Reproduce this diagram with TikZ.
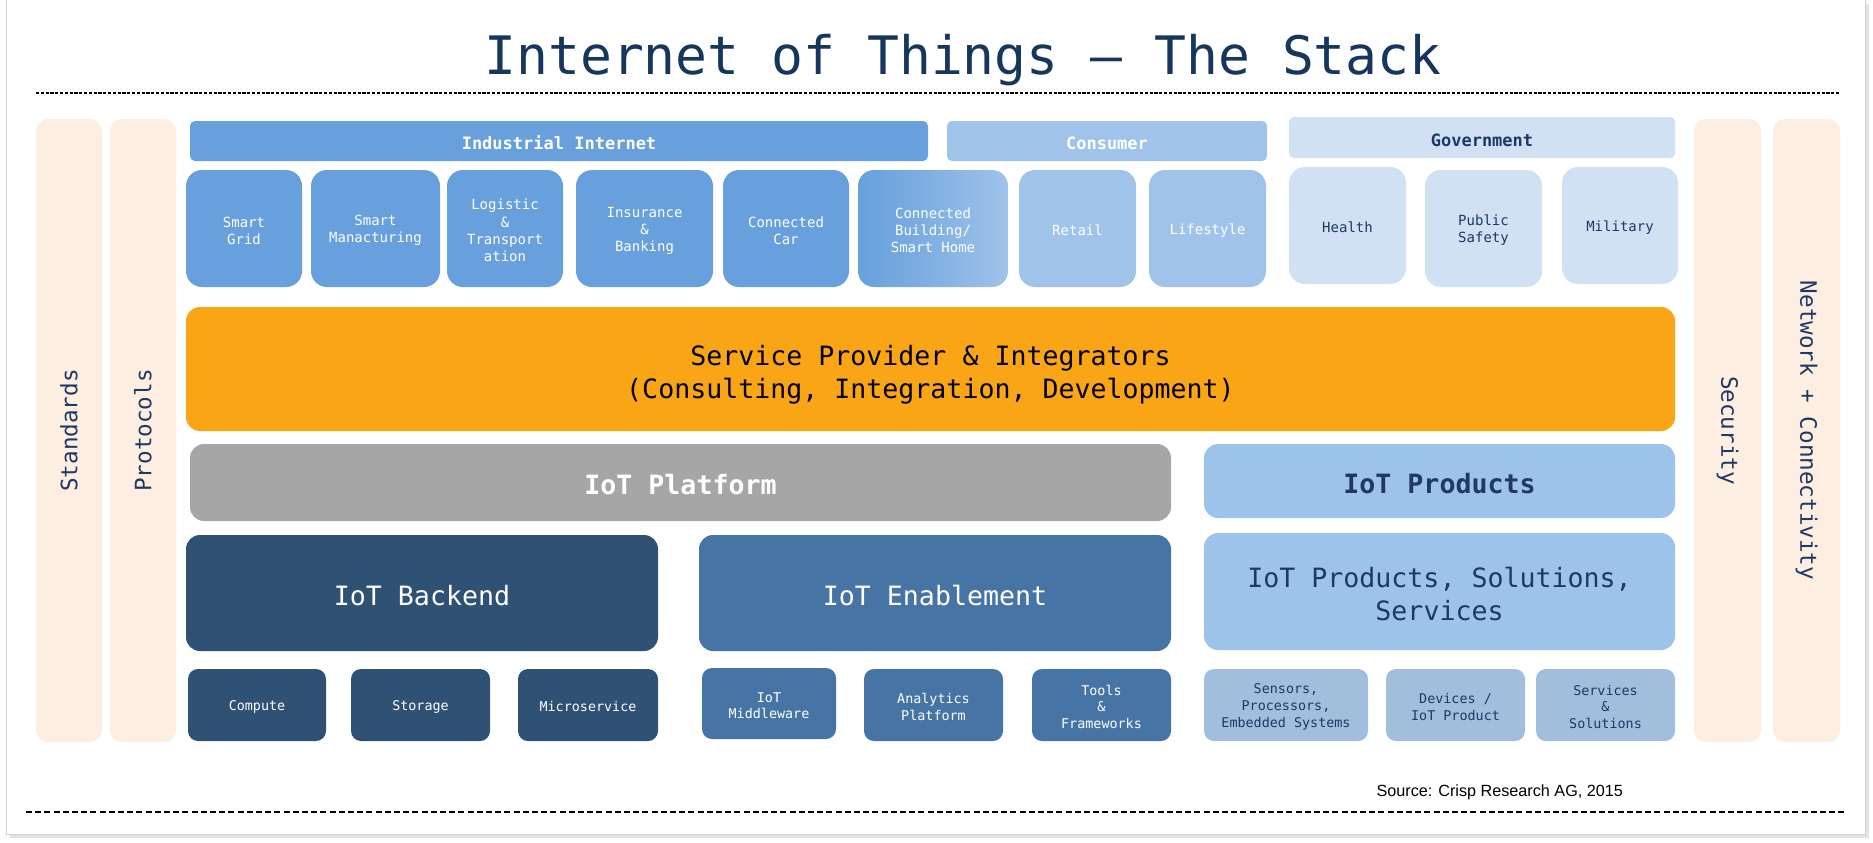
\documentclass[tikz,border=0pt]{standalone}
\usepackage{fontspec}
\setmainfont{DejaVu Sans Mono}
\newfontfamily\srcfont{Liberation Sans}
\usetikzlibrary{positioning}
\definecolor{cnavy}{RGB}{31,56,100}
\definecolor{ctitle}{RGB}{23,54,93}
\definecolor{cind}{RGB}{103,160,220}
\definecolor{ccons}{RGB}{160,195,234}
\definecolor{cgov}{RGB}{207,225,243}
\definecolor{cserv}{RGB}{249,165,22}
\definecolor{cplat}{RGB}{166,166,166}
\definecolor{cback}{RGB}{47,82,116}
\definecolor{cenab}{RGB}{70,116,164}
\definecolor{cprod}{RGB}{157,195,235}
\definecolor{cprodt}{RGB}{162,190,221}
\definecolor{cside}{RGB}{253,238,226}
% box from corner (x1,y1) to (x2,y2), in pixels
\newcommand{\blkstrut}{}
\newcommand{\blk}[7]{%
  \node[#6,minimum width={(#4-#2)*0.5pt},minimum height={(#5-#3)*0.5pt}] (#1) at ({(#2+#4)/2},{(#3+#5)/2}) {\blkstrut#7};}

\begin{document}
\begin{tikzpicture}[x=0.5pt,y=-0.5pt,
  base/.style={inner sep=0pt,align=center},
  lower/.style={/utils/exec={\def\blkstrut{\rule{0pt}{#1}}}},
  sidebar/.style={base,fill=cside,rounded corners=6pt},
  sidetext/.style={text=cnavy,font=\fontsize{11.3}{13}\selectfont},
  header/.style={base,rounded corners=2.5pt,lower=8.9pt,font=\fontsize{8.5}{10}\selectfont\bfseries},
  tile/.style={base,rounded corners=8pt,lower=7.3pt,font=\fontsize{7}{8.6}\selectfont},
  layer/.style={base,rounded corners=7pt,lower=12.5pt,font=\fontsize{13.3}{16.7}\selectfont},
  small/.style={base,rounded corners=5pt,lower=6.9pt,font=\fontsize{6.7}{8.3}\selectfont}]
\useasboundingbox (0,0) rectangle (1873,842);
% ---------- frame ----------
\fill[gray!22] (10,4) rectangle (1869,838);
\draw[gray!35,fill=white] (6,-2) rectangle (1865,834);
% ---------- title ----------
\node[anchor=base,text=ctitle,font=\fontsize{26.5}{30}\selectfont] (title) at (963,74) {Internet of Things – The Stack};
\draw[line width=0.7pt,dash pattern=on 1.6pt off 0.8pt] (36,93) coordinate (tl) -- (1840,93) coordinate (tr);
% ---------- side bars ----------
\blk{std}{36}{119}{102}{742}{sidebar}{}
\blk{prot}{110}{119}{176}{742}{sidebar}{}
\blk{sec}{1694}{119}{1761}{742}{sidebar}{}
\blk{net}{1773}{119}{1840}{742}{sidebar}{}
\node[sidetext,rotate=90] (stdT) at (std) {Standards};
\node[sidetext,rotate=90] (protT) at (prot) {Protocols};
\node[sidetext,rotate=-90] (secT) at (sec) {Security};
\node[sidetext,rotate=-90] (netT) at (net) {Network + Connectivity};
% ---------- markets ----------
\blk{ind}{190}{121}{928}{161}{header,fill=cind,text=white}{Industrial Internet}
\blk{cons}{947}{121}{1267}{161}{header,fill=ccons,text=white}{Consumer}
\blk{gov}{1289}{117}{1675}{158}{header,fill=cgov,text=cnavy}{Government}
\blk{grid}{186}{170}{302}{287}{tile,fill=cind,text=white}{Smart\\Grid}
\blk{manu}{311}{170}{440}{287}{tile,fill=cind,text=white}{Smart\\Manacturing}
\blk{logi}{447}{170}{563}{287}{tile,fill=cind,text=white}{Logistic\\\&\\Transport\\ation}
\blk{insu}{576}{170}{713}{287}{tile,fill=cind,text=white}{Insurance\\\&\\Banking}
\blk{car}{723}{170}{849}{287}{tile,fill=cind,text=white}{Connected\\Car}
\blk{home}{858}{170}{1008}{287}{tile,left color=cind,right color=ccons,middle color=cind!55!ccons,text=white}{Connected\\Building/\\Smart Home}
\blk{retail}{1019}{170}{1136}{287}{tile,fill=ccons,text=white}{Retail}
\blk{life}{1149}{170}{1266}{287}{tile,fill=ccons,text=white}{Lifestyle}
\blk{health}{1289}{167}{1406}{284}{tile,fill=cgov,text=cnavy}{Health}
\blk{safety}{1425}{170}{1542}{287}{tile,fill=cgov,text=cnavy}{Public\\Safety}
\blk{mil}{1562}{167}{1678}{284}{tile,fill=cgov,text=cnavy}{Military}
% ---------- service layer ----------
\blk{serv}{186}{307}{1675}{431}{layer,lower=16pt,fill=cserv,text=black}{Service Provider \& Integrators\\(Consulting, Integration, Development)}
% ---------- platform / products ----------
\blk{plat}{190}{444}{1171}{521}{layer,fill=cplat,text=white,font=\fontsize{13.3}{16.7}\selectfont\bfseries}{IoT Platform}
\blk{prod}{1204}{444}{1675}{518}{layer,fill=cprod,text=cnavy,font=\fontsize{13.3}{16.7}\selectfont\bfseries}{IoT Products}
\blk{back}{186}{535}{658}{651}{layer,fill=cback,text=white}{IoT Backend}
\blk{enab}{699}{535}{1171}{651}{layer,fill=cenab,text=white}{IoT Enablement}
\blk{sol}{1204}{533}{1675}{650}{layer,fill=cprod,text=cnavy}{IoT Products, Solutions,\\Services}
% ---------- bottom row ----------
\blk{comp}{188}{669}{326}{741}{small,fill=cback,text=white}{Compute}
\blk{stor}{351}{669}{490}{741}{small,fill=cback,text=white}{Storage}
\blk{micro}{518}{669}{658}{741}{small,fill=cback,text=white}{Microservice}
\blk{midw}{702}{668}{836}{739}{small,fill=cenab,text=white}{IoT\\Middleware}
\blk{anal}{864}{669}{1003}{741}{small,fill=cenab,text=white}{Analytics\\Platform}
\blk{tools}{1032}{669}{1171}{741}{small,fill=cenab,text=white}{Tools\\\&\\Frameworks}
\blk{sens}{1204}{669}{1368}{741}{small,fill=cprodt,text=cnavy}{Sensors,\\Processors,\\Embedded Systems}
\blk{dev}{1386}{669}{1525}{741}{small,fill=cprodt,text=cnavy}{Devices /\\IoT Product}
\blk{svc}{1536}{669}{1675}{741}{small,fill=cprodt,text=cnavy}{Services\\\&\\Solutions}
% ---------- source ----------
\node[anchor=east,font=\srcfont\fontsize{8.1}{10}\selectfont] (src) at (1630,792) {Source: Crisp Research AG, 2015};
\draw[line width=0.6pt,dash pattern=on 3pt off 1.6pt] (26,812) coordinate (bl) -- (1845,812) coordinate (br);
\end{tikzpicture}
\end{document}
